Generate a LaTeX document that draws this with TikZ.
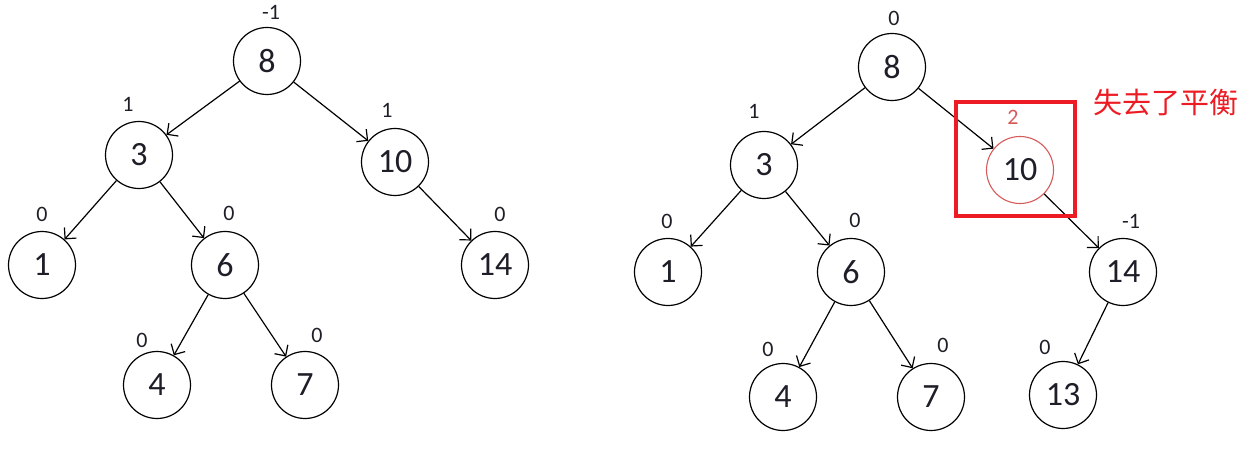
\documentclass[tikz,border=0pt]{standalone}
\usepackage{fontspec}
\setmainfont{Carlito}
\newfontfamily\cjk{Noto Sans CJK SC}
\usetikzlibrary{arrows.meta}
\definecolor{boxred}{RGB}{237,28,36}
\definecolor{softred}{RGB}{214,90,90}
\definecolor{ink}{RGB}{30,30,40}
\tikzset{
  tn/.style={circle,draw=black,line width=1.2pt,minimum size=67pt,inner sep=0pt,font=\fontsize{34}{36}\selectfont,text=ink},
  bal/.style={font=\fontsize{22}{24}\selectfont,text=ink,inner sep=0pt},
  edge/.style={line width=1.2pt,-{Straight Barb[length=8pt,width=16pt,line width=1.2pt]}}
}
\begin{document}
\begin{tikzpicture}[x=1pt,y=-1pt]
\useasboundingbox (0,0) rectangle (1245,465);
% left tree
\node[tn] (a8) at (267,61) {8};
\node[tn] (a3) at (139,155) {3};
\node[tn] (a10) at (395,162) {10};
\node[tn] (a1) at (42,265) {1};
\node[tn] (a6) at (225,265) {6};
\node[tn] (a14) at (495,265) {14};
\node[tn] (a4) at (157,385) {4};
\node[tn] (a7) at (305,385) {7};
\draw[edge] (a8) -- (a3);
\draw[edge] (a8) -- (a10);
\draw[edge] (a3) -- (a1);
\draw[edge] (a3) -- (a6);
\draw[edge] (a10) -- (a14);
\draw[edge] (a6) -- (a4);
\draw[edge] (a6) -- (a7);
\node[bal] (la8) at (271,12) {-1};
\node[bal] (la3) at (128,104) {1};
\node[bal] (la10) at (387,110) {1};
\node[bal] (la1) at (42,214) {0};
\node[bal] (la6) at (229,213) {0};
\node[bal] (la14) at (500,214) {0};
\node[bal] (la4) at (142,340) {0};
\node[bal] (la7) at (317,335) {0};
% right tree
\node[tn] (b8) at (892,67) {8};
\node[tn] (b3) at (764,165) {3};
\node[tn,draw=softred,line width=1.1pt] (b10) at (1020,170) {10};
\node[tn] (b1) at (668,272) {1};
\node[tn] (b6) at (851,272) {6};
\node[tn] (b14) at (1123,272) {14};
\node[tn] (b4) at (783,397) {4};
\node[tn] (b7) at (931,397) {7};
\node[tn] (b13) at (1063,395) {13};
\draw[edge] (b8) -- (b3);
\draw[edge] (b8) -- (b10);
\draw[edge] (b3) -- (b1);
\draw[edge] (b3) -- (b6);
\draw[edge] (b10) -- (b14);
\draw[edge] (b6) -- (b4);
\draw[edge] (b6) -- (b7);
\draw[edge] (b14) -- (b13);
\node[bal] (lb8) at (894,18) {0};
\node[bal] (lb3) at (754,111) {1};
\node[bal,text=softred] (lb10) at (1013,117) {2};
\node[bal] (lb1) at (667,221) {0};
\node[bal] (lb6) at (855,220) {0};
\node[bal] (lb14) at (1131,221) {-1};
\node[bal] (lb4) at (768,349) {0};
\node[bal] (lb7) at (943,345) {0};
\node[bal] (lb13) at (1045,347) {0};
% highlight
\node[draw=boxred,line width=4pt,minimum width=119pt,minimum height=114pt,inner sep=0pt] (hl) at (1015.5,159) {};
\node[text=boxred,font=\cjk\fontsize{29}{31}\selectfont,anchor=west,inner sep=0pt] (msg) at (1093,102) {失去了平衡};
\end{tikzpicture}
\end{document}
